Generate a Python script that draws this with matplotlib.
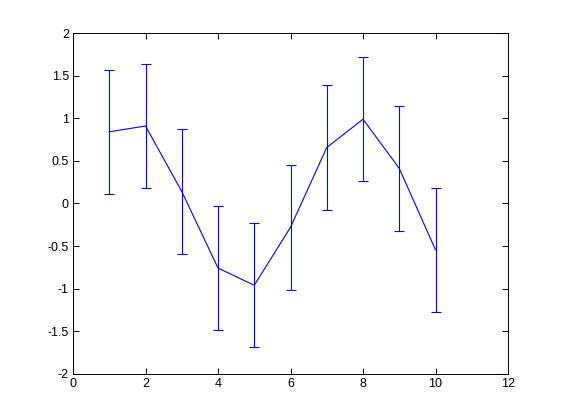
import matplotlib
matplotlib.use('Agg')
import matplotlib.pyplot as plt

x = [1, 2, 3, 4, 5, 6, 7, 8, 9, 10]
y = [0.841, 0.909, 0.141, -0.757, -0.959, -0.279, 0.657, 0.989, 0.412, -0.544]
err = [0.73, 0.73, 0.73, 0.73, 0.73, 0.73, 0.73, 0.73, 0.73, 0.73]

xticks = [0, 2, 4, 6, 8, 10, 12]
yticks = [-2, -1.5, -1, -0.5, 0, 0.5, 1, 1.5, 2]
ytick_labels = ['-2', '-1.5', '-1', '-0.5', '0', '0.5', '1', '1.5', '2']

plt.rcParams['font.family'] = ['Liberation Sans', 'DejaVu Sans']
plt.rcParams['font.size'] = 9

fig = plt.figure(figsize=(5.61, 4.2), dpi=100)
ax = fig.add_axes([73 / 561, 1 - 374 / 420, 435 / 561, 341 / 420])

ax.errorbar(x, y, yerr=err, color='#0000ff', linewidth=0.8,
            elinewidth=0.8, capsize=3.5, capthick=0.8)

ax.set_xlim(0, 12)
ax.set_ylim(-2, 2)
ax.set_xticks(xticks)
ax.set_yticks(yticks)
ax.set_yticklabels(ytick_labels)
ax.tick_params(direction='in', top=True, right=True, length=4, width=0.7, pad=3)
for s in ax.spines.values():
    s.set_linewidth(0.7)

fig.savefig('out.png', dpi=100)
